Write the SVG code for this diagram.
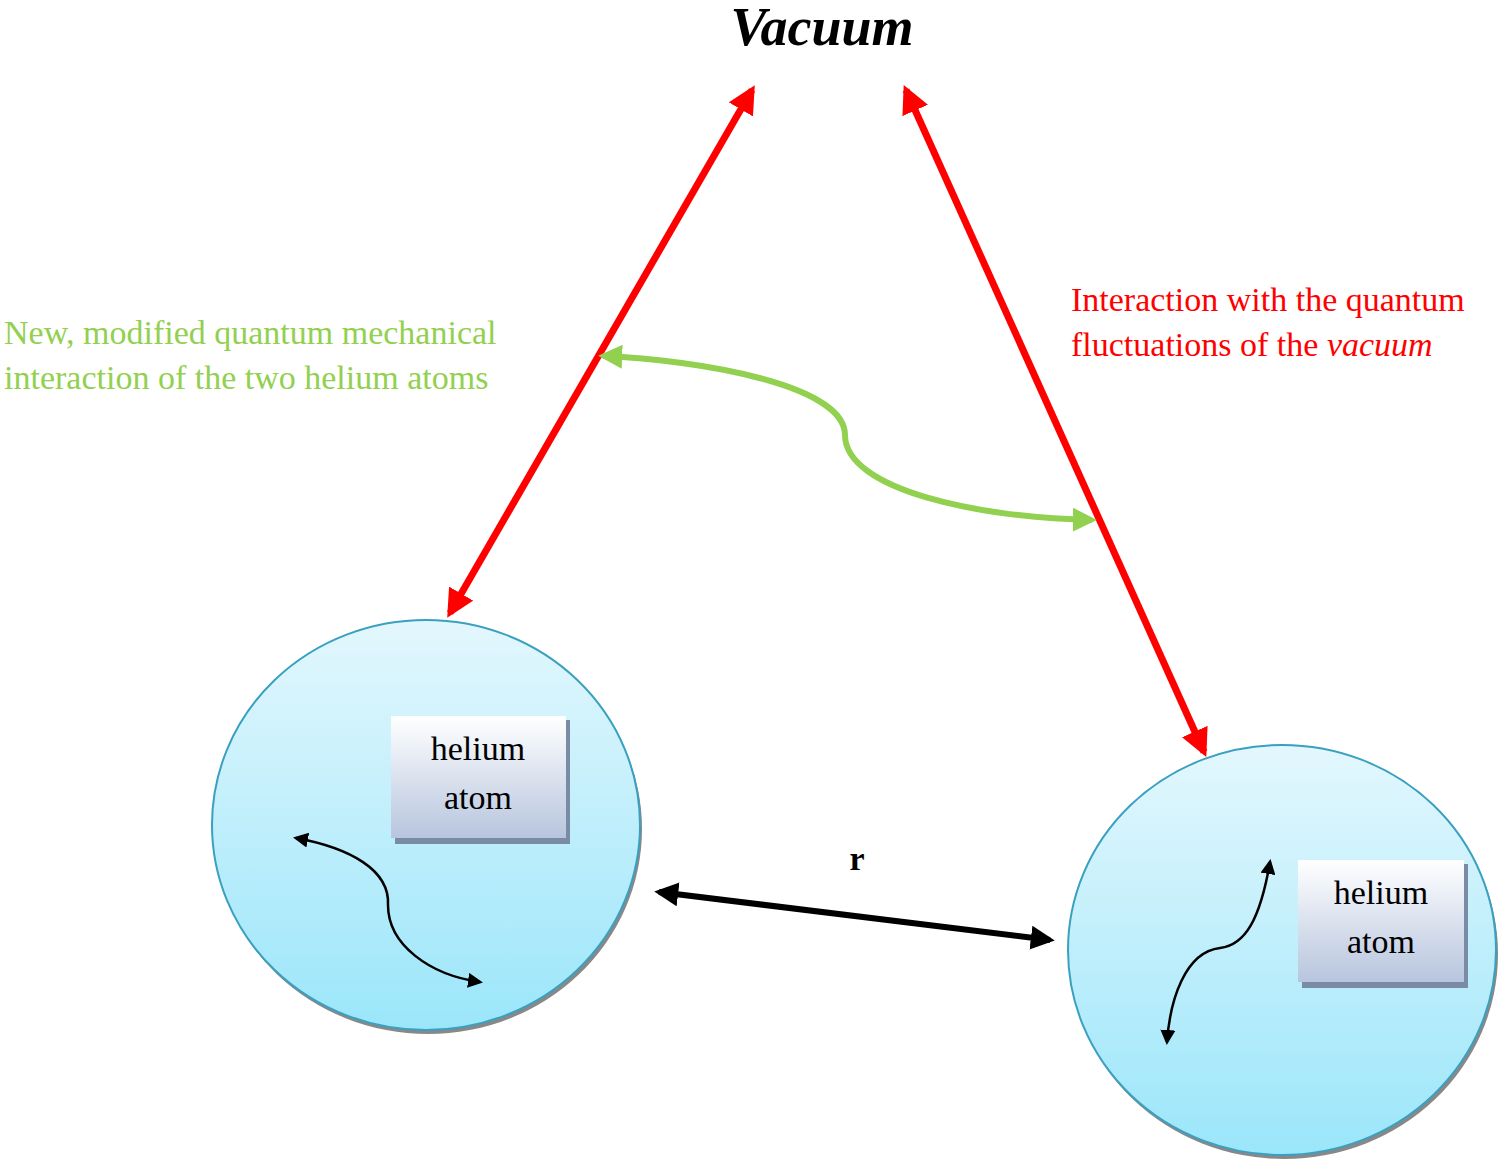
<svg xmlns="http://www.w3.org/2000/svg" width="1500" height="1163" viewBox="0 0 1500 1163">
<defs>
<linearGradient id="cg" x1="0" y1="0" x2="0" y2="1"><stop offset="0" stop-color="#e3f7fd"/><stop offset="1" stop-color="#9be6fa"/></linearGradient>
<linearGradient id="bg" x1="0" y1="0" x2="0" y2="1"><stop offset="0" stop-color="#ffffff"/><stop offset="1" stop-color="#b7c5de"/></linearGradient>
<marker id="rA" viewBox="0 0 10 10" refX="8" refY="5" markerWidth="4" markerHeight="4" orient="auto-start-reverse" markerUnits="strokeWidth"><path d="M0,0L10,5L0,10z" fill="#ff0000"/></marker>
<marker id="gA" viewBox="0 0 10 10" refX="8" refY="5" markerWidth="4" markerHeight="4" orient="auto-start-reverse" markerUnits="strokeWidth"><path d="M0,0L10,5L0,10z" fill="#92d050"/></marker>
<marker id="kA" viewBox="0 0 10 10" refX="8" refY="5" markerWidth="4" markerHeight="4" orient="auto-start-reverse" markerUnits="strokeWidth"><path d="M0,0L10,5L0,10z" fill="#000"/></marker>
<marker id="sA" viewBox="0 0 10 10" refX="8" refY="5" markerWidth="6" markerHeight="6" orient="auto-start-reverse" markerUnits="strokeWidth"><path d="M0,0L10,5L0,10z" fill="#000"/></marker>
</defs>
<style>
.t{font-family:"Liberation Serif",serif;font-size:34px}
.c{fill:url(#cg);stroke:#3aa0c0;stroke-width:2}
.sh{fill:#888}
.b{fill:url(#bg)}
.bs{fill:#7a8ca5}
</style>
<text x="822" y="45" text-anchor="middle" font-family="Liberation Serif,serif" font-size="54" font-weight="bold" font-style="italic">Vacuum</text>
<g id="atom1">
<ellipse class="sh" cx="428" cy="829" rx="214" ry="205"/>
<ellipse class="c" cx="426" cy="825" rx="214" ry="205"/>
<rect class="bs" x="395" y="720" width="175" height="124"/>
<rect class="b" x="391" y="716" width="175" height="122"/>
<text class="t" x="478" y="760" text-anchor="middle">helium</text>
<text class="t" x="478" y="809" text-anchor="middle">atom</text>
<path d="M296,838 C350,848 390,870 388,905 C388,945 430,975 480,982" fill="none" stroke="#000" stroke-width="2.5" marker-start="url(#sA)" marker-end="url(#sA)"/>
</g>
<g id="atom2">
<ellipse class="sh" cx="1284" cy="954" rx="214" ry="205"/>
<ellipse class="c" cx="1282" cy="950" rx="214" ry="205"/>
<rect class="bs" x="1302" y="864" width="166" height="124"/>
<rect class="b" x="1298" y="860" width="166" height="122"/>
<text class="t" x="1381" y="904" text-anchor="middle">helium</text>
<text class="t" x="1381" y="953" text-anchor="middle">atom</text>
<path d="M1270,862 C1260,920 1245,945 1220,948 C1185,952 1170,1000 1167,1042" fill="none" stroke="#000" stroke-width="2.5" marker-start="url(#sA)" marker-end="url(#sA)"/>
</g>
<g id="connectors">
<line x1="752" y1="90" x2="450" y2="613" stroke="#ff0000" stroke-width="7" marker-start="url(#rA)" marker-end="url(#rA)"/>
<line x1="906" y1="90" x2="1204" y2="752" stroke="#ff0000" stroke-width="7" marker-start="url(#rA)" marker-end="url(#rA)"/>
<path d="M603,356 C700,360 845,385 845,435 C845,490 980,518 1092,520" fill="none" stroke="#92d050" stroke-width="6" marker-start="url(#gA)" marker-end="url(#gA)"/>
<line x1="659" y1="892" x2="1050" y2="940" stroke="#000" stroke-width="6" marker-start="url(#kA)" marker-end="url(#kA)"/>
</g>
<text x="857" y="870" text-anchor="middle" font-family="Liberation Serif,serif" font-size="34" font-weight="bold">r</text>
<text class="t" x="4" y="344" fill="#92d050">New, modified quantum mechanical</text>
<text class="t" x="4" y="389" fill="#92d050">interaction of the two helium atoms</text>
<text class="t" x="1071" y="311" fill="#ff0000">Interaction with the quantum</text>
<text class="t" x="1071" y="356" fill="#ff0000">fluctuations of the <tspan font-style="italic">vacuum</tspan></text>
</svg>
